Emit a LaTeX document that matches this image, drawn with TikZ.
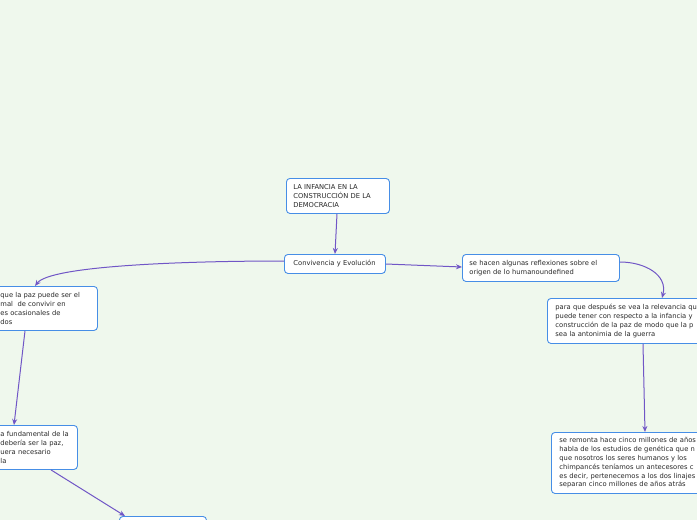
\documentclass[tikz,border=0pt]{standalone}
\usepackage{fontspec}
\setmainfont{DejaVu Sans}
\usetikzlibrary{arrows.meta,calc}
\definecolor{bgc}{RGB}{239,248,237}
\definecolor{bordc}{RGB}{70,142,230}
\definecolor{arrc}{RGB}{112,86,198}
\definecolor{txtc}{RGB}{40,40,40}
\tikzset{
  box/.style={draw=bordc, line width=0.9pt, fill=white, rounded corners=3.5pt,
    anchor=north west, align=left, inner xsep=7pt, inner ysep=0pt,
    font=\fontsize{6.75}{8.8}\selectfont, text=txtc},
  conn/.style={draw=arrc, line width=1pt, -{Stealth[length=6pt,width=5pt]}}
}
\begin{document}
\begin{tikzpicture}[x=1pt,y=1pt]
\useasboundingbox (0,0) rectangle (697,-520);
\fill[bgc] (0,0) rectangle (697,-520);
\clip (0,0) rectangle (697,-520);

\node[box, minimum width=103pt, minimum height=35pt, text width=89pt] (b1) at (286,-178)
  {LA INFANCIA EN LA\\CONSTRUCCIÓN DE LA\\DEMOCRACIA};
\node[box, minimum width=101pt, minimum height=19pt, text width=83pt, inner xsep=9pt] (b2) at (284,-254)
  {Convivencia y Evolución};
\node[box, minimum width=157pt, minimum height=27pt, text width=143pt] (b3) at (462,-254)
  {se hacen algunas reflexiones sobre el\\origen de lo humanoundefined};
\node[box, minimum width=190pt, minimum height=45pt, text width=176pt, inner xsep=8pt] (b4) at (547,-298)
  {para que después se vea la relevancia qu\\puede tener con respecto a la infancia y\\construcción de la paz de modo que la p\\sea la antonimia de la guerra};
\node[box, minimum width=190pt, minimum height=61pt, text width=176pt, inner xsep=8pt] (b5) at (551,-432)
  {se remonta hace cinco millones de años\\habla de los estudios de genética que n\\que nosotros los seres humanos y los\\chimpancés teníamos un antecesores c\\es decir, pertenecemos a los dos linajes\\separan cinco millones de años atrás};
\node[box, minimum width=104pt, minimum height=44pt, text width=90pt] (l1) at (-7,-286)
  {que la paz puede ser el\\mal\ \ de convivir en\\es ocasionales de\\dos};
\node[box, minimum width=82pt, minimum height=44pt, text width=70pt] (l2) at (-7,-425)
  {a fundamental de la\\debería ser la paz,\\uera necesario\\la};
\node[box, minimum width=87pt, minimum height=20pt, text width=73pt] (l3) at (119,-516) {};

\coordinate (b1s) at ($(b1.south west)+(51,0)$);
\coordinate (b2n) at ($(b2.north west)+(51,0)$);
\coordinate (b2w) at ($(b2.north west)+(0,-7)$);
\coordinate (b2e) at ($(b2.north east)+(0,-10)$);
\coordinate (b3w) at ($(b3.north west)+(0,-13)$);
\coordinate (b3e) at ($(b3.north east)+(0,-8)$);
\coordinate (b4n) at ($(b4.north west)+(115,0)$);
\coordinate (b4s) at ($(b4.south west)+(96,0)$);
\coordinate (b5n) at ($(b5.north west)+(94,0)$);
\coordinate (l1n) at ($(l1.north west)+(42,0)$);
\coordinate (l1s) at ($(l1.south west)+(32,0)$);
\coordinate (l2n) at ($(l2.north west)+(21,0)$);
\coordinate (l2s) at ($(l2.south west)+(58,0)$);
\coordinate (l3n) at ($(l3.north west)+(6,0)$);

\draw[conn] (b1s) -- (b2n);
\draw[conn] (b2w) .. controls (180,-261) and (50,-266) .. (l1n);
\draw[conn] (b2e) -- (b3w);
\draw[conn] (b3e) .. controls (645,-262) and (668,-275) .. (b4n);
\draw[conn] (b4s) -- (b5n);
\draw[conn] (l1s) -- (l2n);
\draw[conn] (l2s) -- (l3n);
\end{tikzpicture}
\end{document}
